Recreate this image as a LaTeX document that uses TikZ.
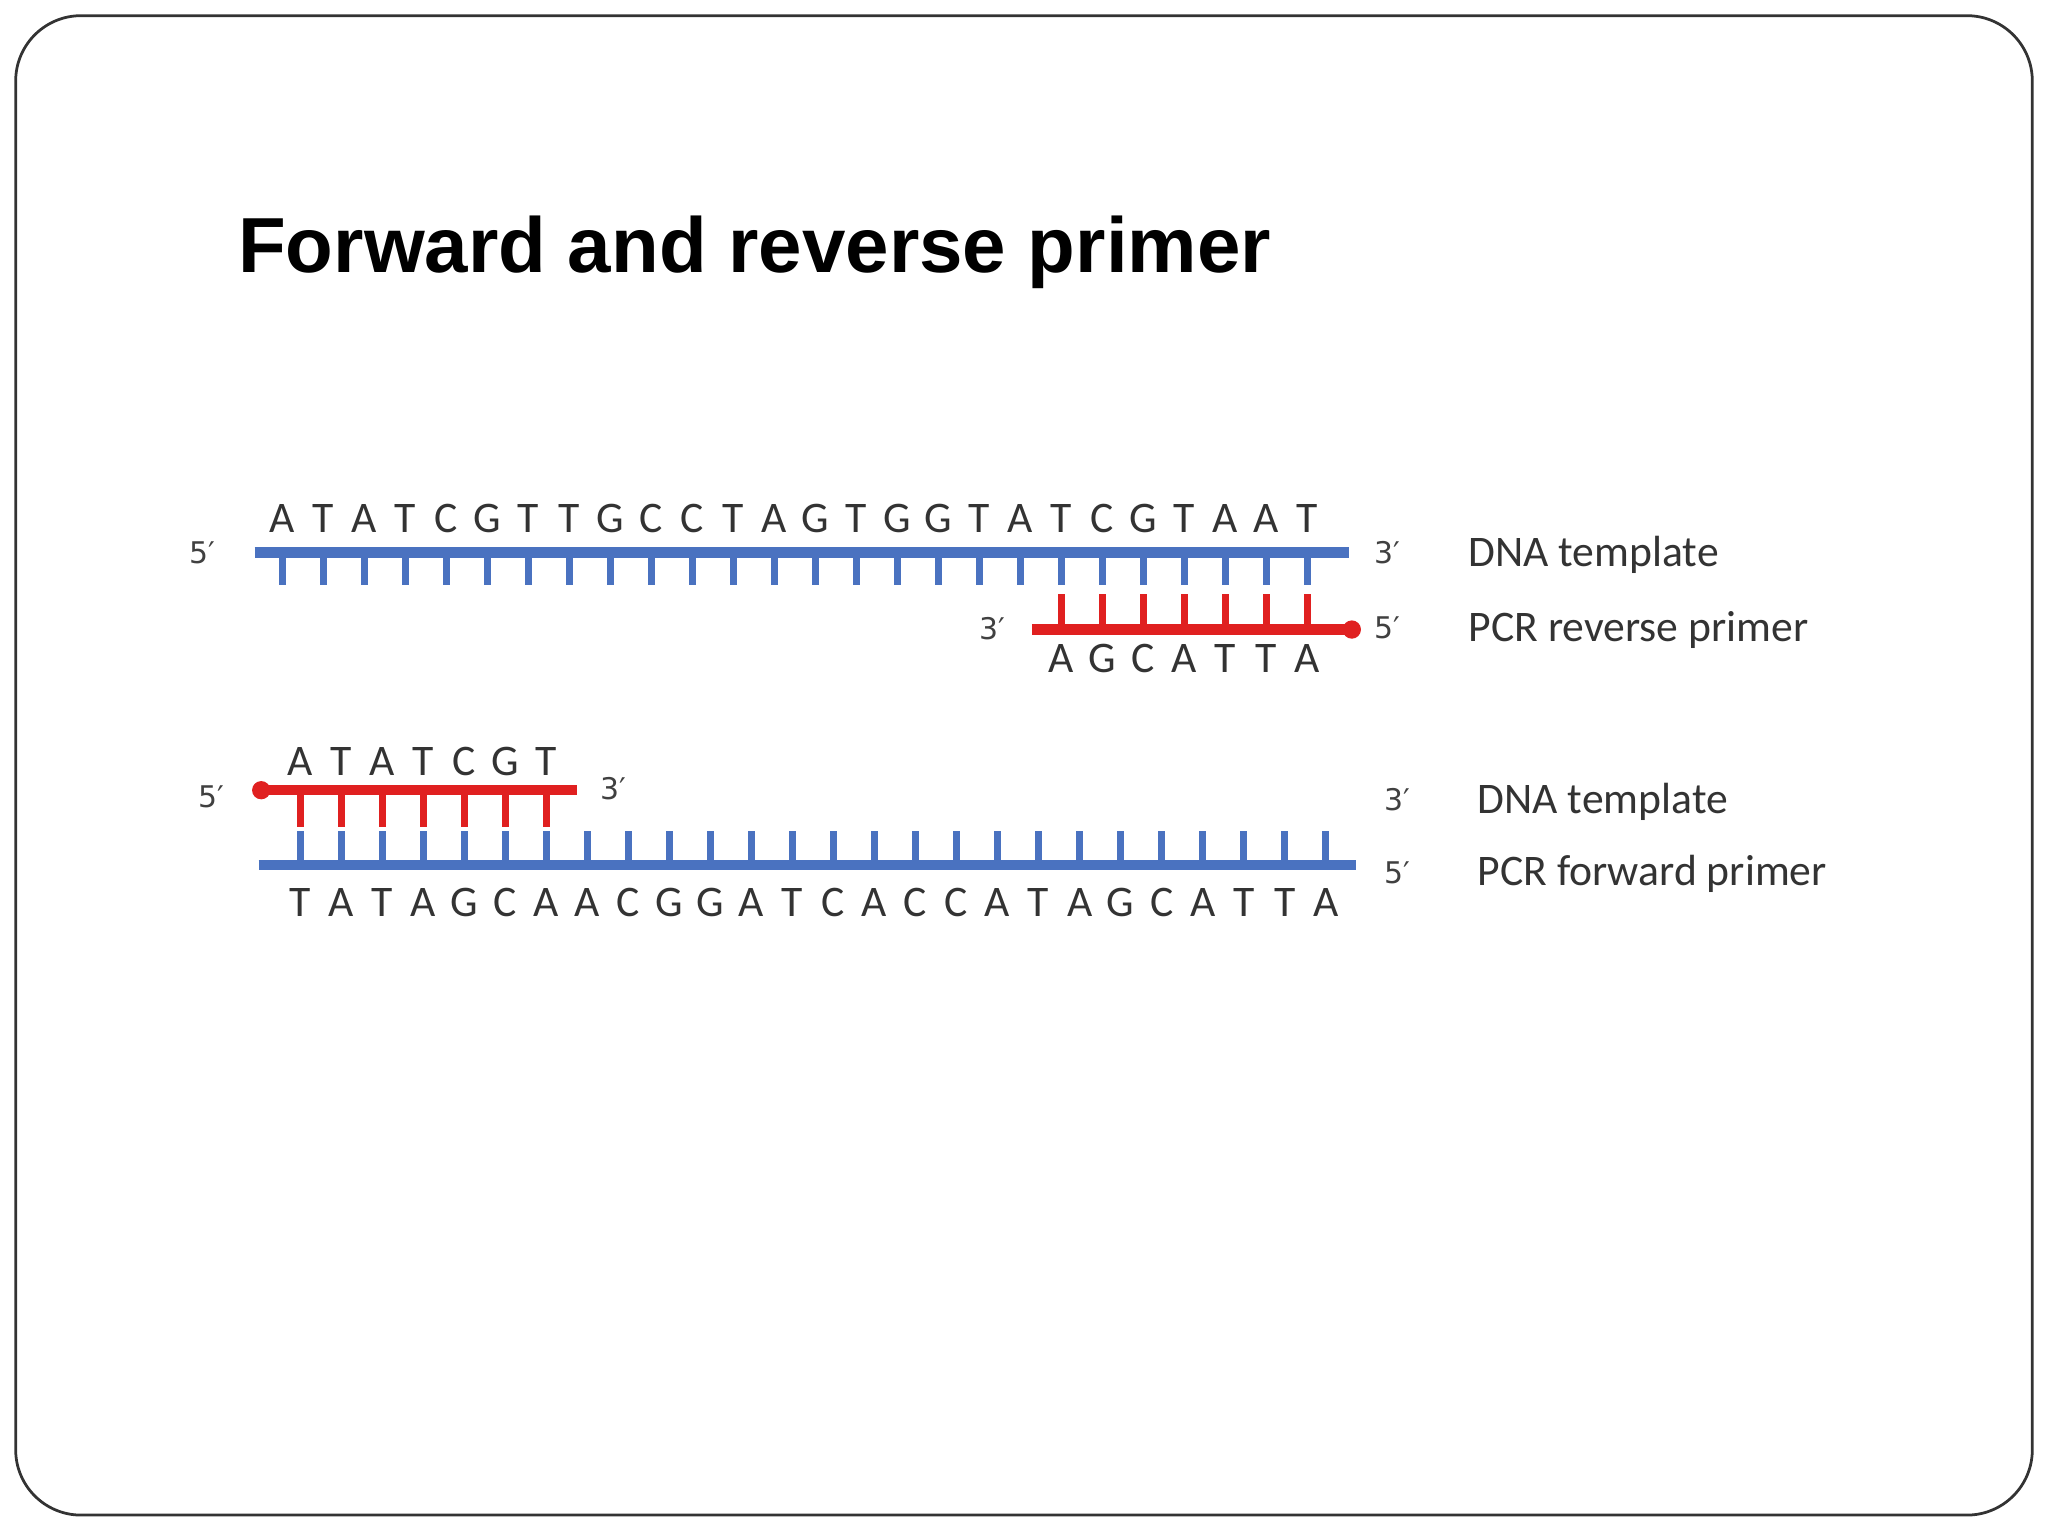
\documentclass[tikz,border=0pt]{standalone}
\usepackage{fontspec}
\setmainfont{Carlito}
\newfontfamily\titlefont{Liberation Sans}
\newfontfamily\primefont{DejaVu Sans}
\definecolor{dnablue}{HTML}{4A72C0}
\definecolor{primred}{HTML}{E02020}
\begin{document}
\begin{tikzpicture}[x=0.01cm,y=-0.01cm,
  strand/.style={line width=2.2pt},
  tick/.style={line width=1.5pt},
  base/.style={font=\fontsize{9.5pt}{10pt}\selectfont, text=black!80, inner sep=0pt},
  endlbl/.style={font=\primefont\fontsize{6.5pt}{8pt}\selectfont, text=black!75},
  lbl/.style={font=\fontsize{9.5pt}{10pt}\selectfont, text=black!80, anchor=west}]
\useasboundingbox (0,0) rectangle (1568,1176);
\draw[black!80, line width=0.6pt, rounded corners=0.5cm] (12,12) rectangle (1556,1160);
\node[anchor=west, font=\titlefont\bfseries\fontsize{17pt}{20pt}\selectfont] (title) at (170,193) {Forward and reverse primer};
% top template
\coordinate (t1) at (195,423); \coordinate (t2) at (1033,423);
\draw[dnablue, strand] (t1) -- (t2);
\foreach \c [count=\i from 0] in {A,T,A,T,C,G,T,T,G,C,C,T,A,G,T,G,G,T,A,T,C,G,T,A,A,T}{
  \pgfmathsetmacro\xx{216+\i*31.4}
  \draw[dnablue, tick] (\xx,423) -- (\xx,448);
  \node[base] (ta\i) at (\xx,397) {\c};
}
\node[endlbl] (t5) at (155,423) {5′};
\node[endlbl] (t3) at (1062,423) {3′};
% reverse primer
\coordinate (r1) at (790,482); \coordinate (r2) at (1035,482);
\draw[primred, strand] (r1) -- (r2);
\fill[primred] (r2) circle (7);
\foreach \c [count=\i from 0] in {A,G,C,A,T,T,A}{
  \pgfmathsetmacro\xx{216+(\i+19)*31.4}
  \draw[primred, tick] (\xx,482) -- (\xx,455);
  \node[base] (ra\i) at (\xx,504) {\c};
}
\node[endlbl] (r3) at (760,481) {3′};
\node[endlbl] (r5) at (1062,481) {5′};
\node[lbl] (l1) at (1112,425) {DNA template};
\node[lbl] (l2) at (1112,482) {PCR reverse primer};
% bottom template
\coordinate (b1) at (198,662); \coordinate (b2) at (1038,662);
\draw[dnablue, strand] (b1) -- (b2);
\foreach \c [count=\i from 0] in {T,A,T,A,G,C,A,A,C,G,G,A,T,C,A,C,C,A,T,A,G,C,A,T,T,A}{
  \pgfmathsetmacro\xx{230+\i*31.4}
  \draw[dnablue, tick] (\xx,662) -- (\xx,636);
  \node[base] (ba\i) at (\xx,691) {\c};
}
% forward primer
\coordinate (f1) at (200,605); \coordinate (f2) at (442,605);
\draw[primred, strand] (f1) -- (f2);
\fill[primred] (f1) circle (7);
\foreach \c [count=\i from 0] in {A,T,A,T,C,G,T}{
  \pgfmathsetmacro\xx{230+\i*31.4}
  \draw[primred, tick] (\xx,605) -- (\xx,633);
  \node[base] (fa\i) at (\xx,583) {\c};
}
\node[endlbl] (f5) at (162,610) {5′};
\node[endlbl] (f3) at (470,604) {3′};
\node[endlbl] (b3) at (1070,612) {3′};
\node[endlbl] (b5) at (1070,668) {5′};
\node[lbl] (l3) at (1119,614) {DNA template};
\node[lbl] (l4) at (1119,669) {PCR forward primer};
\end{tikzpicture}
\end{document}
